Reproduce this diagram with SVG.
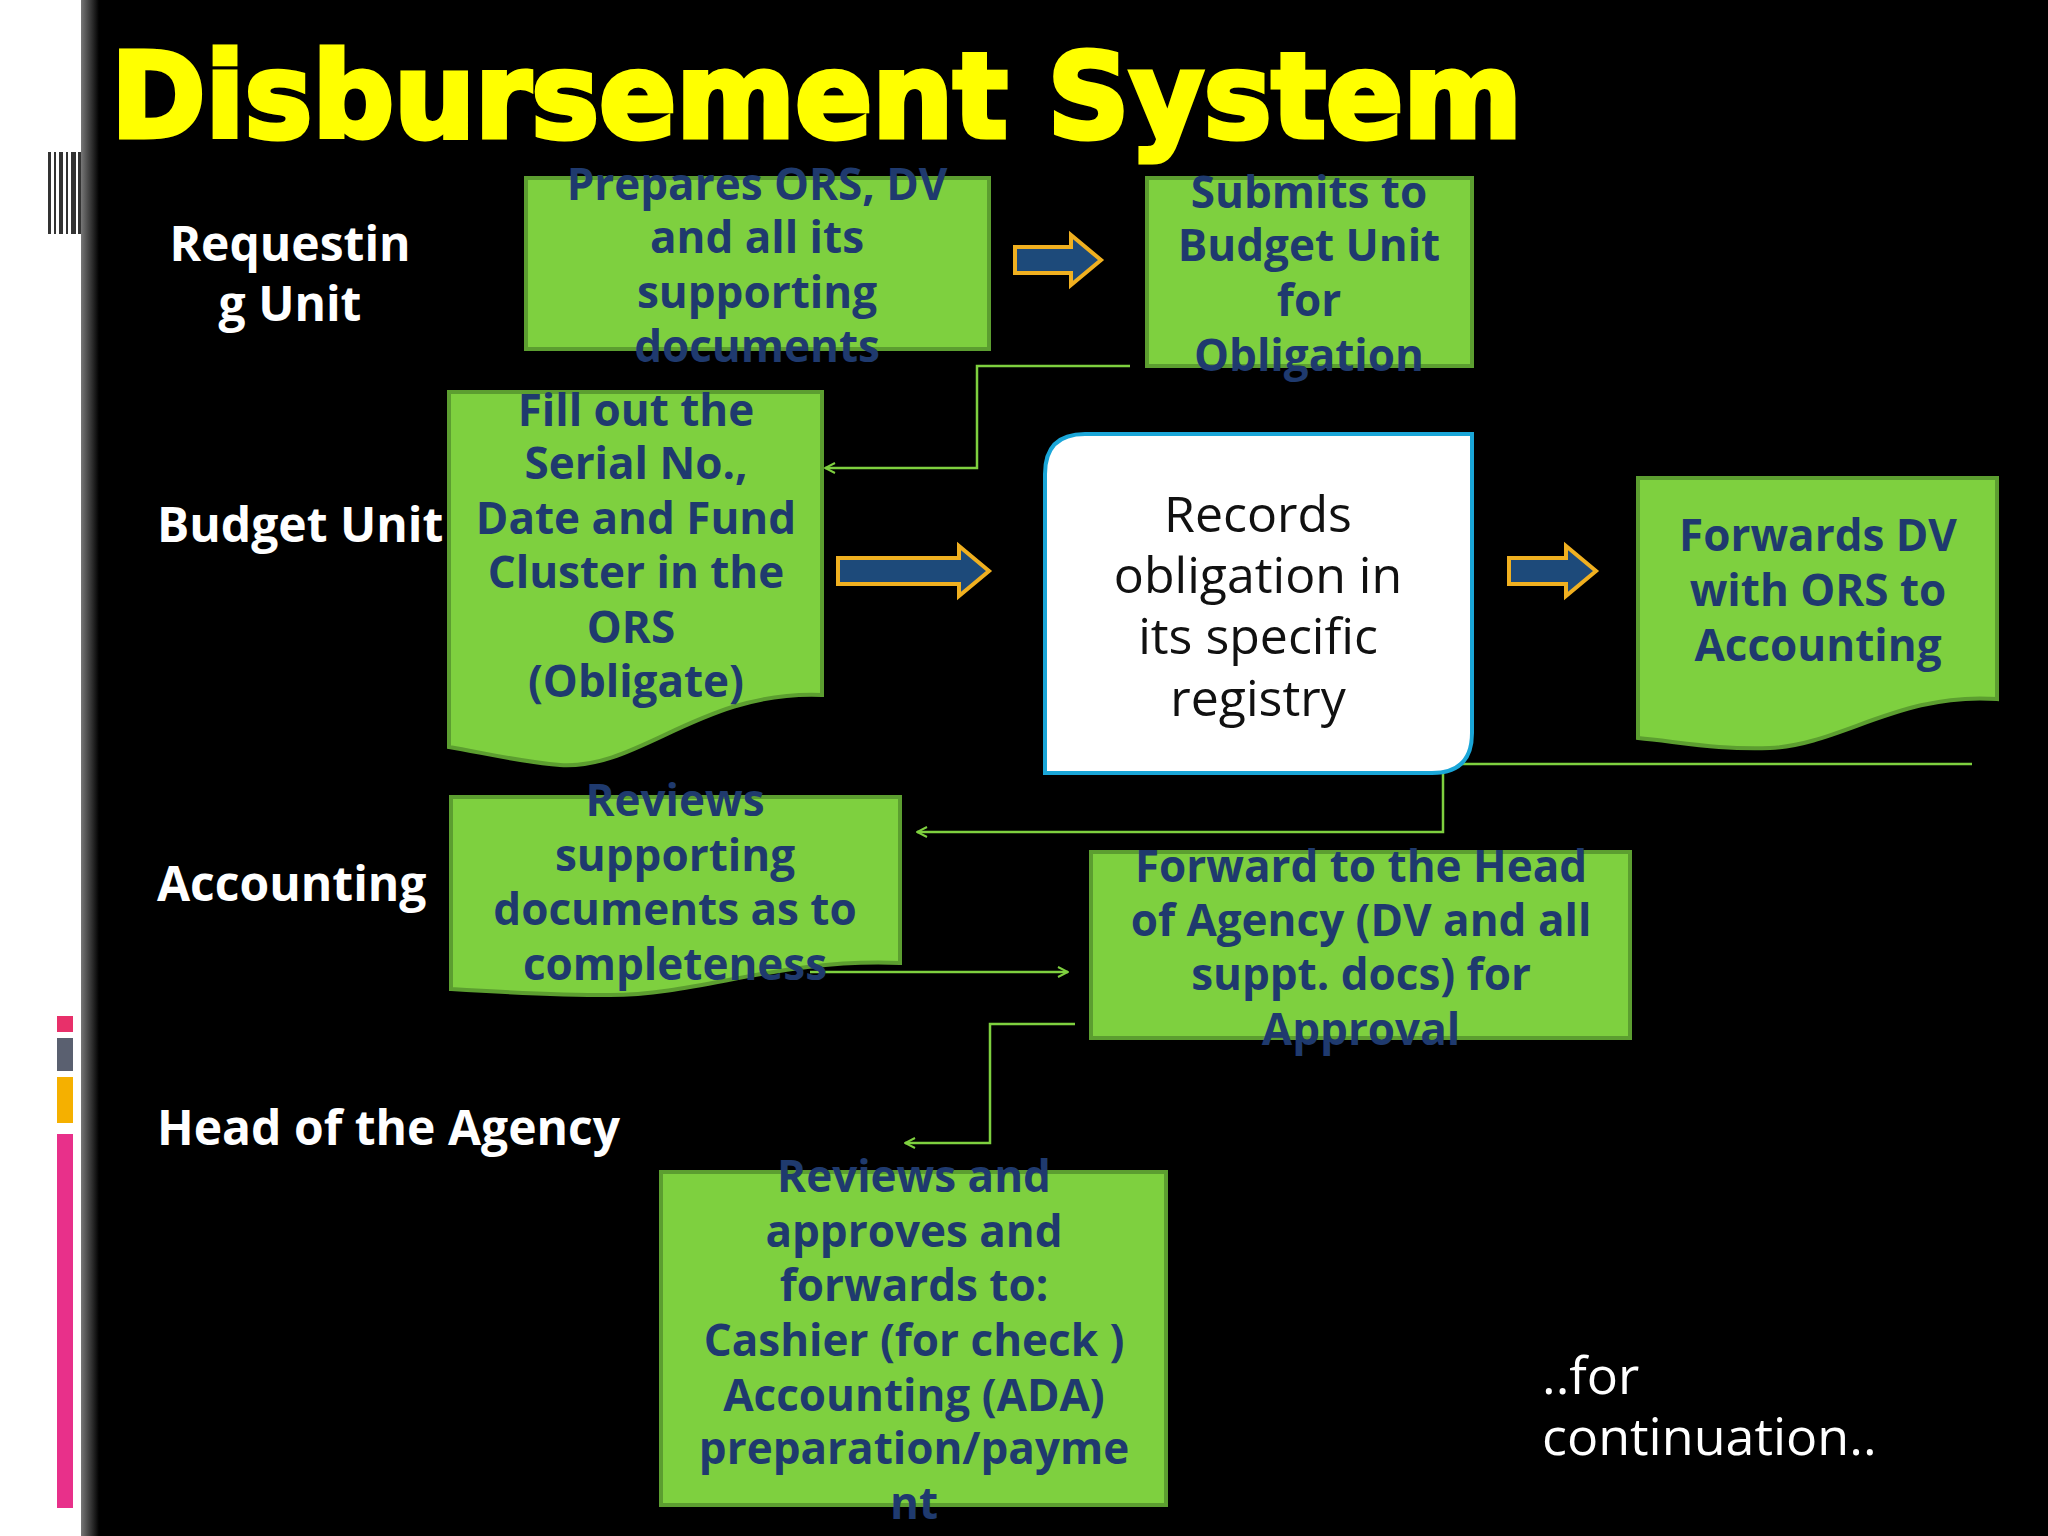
<svg xmlns="http://www.w3.org/2000/svg" width="2048" height="1536" viewBox="0 0 2048 1536">
<defs>
<style>
.box{fill:#7ed03f;stroke:#5c9e30;stroke-width:4}
.bt{font-family:"Open Sans","Noto Sans",sans-serif;font-weight:bold;font-size:44px;fill:#1f3a6e;text-anchor:middle}
.lane{font-family:"Open Sans","Noto Sans",sans-serif;font-weight:bold;font-size:48px;fill:#fff}
.conn{fill:none;stroke:#7ed03f;stroke-width:2.5}
.blk{fill:#1d4a7a;stroke:#f0b020;stroke-width:4;stroke-linejoin:miter}
</style>
<marker id="ah" viewBox="0 0 12 12" refX="11" refY="6" markerWidth="12" markerHeight="12" markerUnits="userSpaceOnUse" orient="auto">
<path d="M1,1 L11,6 L1,11" fill="none" stroke="#7ed03f" stroke-width="2"/>
</marker>
<linearGradient id="edge" x1="0" x2="1"><stop offset="0" stop-color="#777"/><stop offset="1" stop-color="#000"/></linearGradient>
</defs>
<rect width="2048" height="1536" fill="#000"/>
<rect x="0" y="0" width="81" height="1536" fill="#fff"/>
<rect x="81" y="0" width="18" height="1536" fill="url(#edge)"/>
<g fill="#333">
<rect x="48" y="152" width="3" height="82"/><rect x="54" y="152" width="2" height="82"/><rect x="59" y="152" width="4" height="82"/><rect x="66" y="152" width="2" height="82"/><rect x="71" y="152" width="5" height="82"/><rect x="78" y="152" width="3" height="82"/>
</g>
<rect x="57" y="1016" width="16" height="16" fill="#e8306a"/>
<rect x="57" y="1038" width="16" height="33" fill="#5a6070"/>
<rect x="57" y="1077" width="16" height="46" fill="#f5b000"/>
<rect x="57" y="1134" width="16" height="374" fill="#e8308a"/>
<text x="111" y="137" font-family="DejaVu Sans" font-weight="bold" font-size="118" fill="#ffff00" stroke="#ffff00" stroke-width="5" textLength="1411" lengthAdjust="spacingAndGlyphs">Disbursement System</text>
<g id="lanes">
<text class="lane" x="290" y="261" text-anchor="middle">Requestin</text>
<text class="lane" x="290" y="321" text-anchor="middle">g Unit</text>
<text class="lane" x="157" y="542">Budget Unit</text>
<text class="lane" x="157" y="901">Accounting</text>
<text class="lane" x="157" y="1145">Head of the Agency</text>
</g>
<g id="connectors">
<polyline class="conn" points="1130,366 977,366 977,468 825,468" marker-end="url(#ah)"/>
<polyline class="conn" points="1972,764 1443,764 1443,832 917,832" marker-end="url(#ah)"/>
<polyline class="conn" points="810,972 1068,972" marker-end="url(#ah)"/>
<polyline class="conn" points="1075,1024 990,1024 990,1143 905,1143" marker-end="url(#ah)"/>
<path class="blk" d="M1015,247 H1071 V235 L1101,260 L1071,285 V273 H1015 Z"/>
<path class="blk" d="M838,558 H959 V546 L989,571 L959,596 V584 H838 Z"/>
<path class="blk" d="M1509,558 H1566 V546 L1596,571 L1566,596 V584 H1509 Z"/>
</g>
<g id="n1"><rect class="box" x="526" y="178" width="463" height="171"/>
<text class="bt" x="757" y="200">Prepares ORS, DV</text><text class="bt" x="757" y="253">and all its</text><text class="bt" x="757" y="308">supporting</text><text class="bt" x="757" y="362">documents</text></g>
<g id="n2"><rect class="box" x="1147" y="178" width="325" height="188"/>
<text class="bt" x="1309" y="208">Submits to</text><text class="bt" x="1309" y="261">Budget Unit</text><text class="bt" x="1309" y="316">for</text><text class="bt" x="1309" y="371">Obligation</text></g>
<g id="n3"><path class="box" d="M449,392 H822 V695 C700,690 640,770 560,765 C520,762 480,752 449,747 Z"/>
<text class="bt" x="636" y="426">Fill out the</text><text class="bt" x="636" y="479">Serial No.,</text><text class="bt" x="636" y="534">Date and Fund</text><text class="bt" x="636" y="588">Cluster in the</text><text class="bt" x="631" y="643">ORS</text><text class="bt" x="636" y="697">(Obligate)</text></g>
<g id="n4"><path d="M1085,434 H1472 V733 Q1472,773 1432,773 H1045 V474 Q1045,434 1085,434 Z" fill="#fff" stroke="#1aa6d8" stroke-width="4"/>
<g font-family="Open Sans,Noto Sans,sans-serif" font-size="50" fill="#111" text-anchor="middle"><text x="1258" y="532">Records</text><text x="1258" y="593">obligation in</text><text x="1258" y="654">its specific</text><text x="1258" y="716">registry</text></g></g>
<g id="n5"><path class="box" d="M1638,478 H1997 V699 C1900,692 1840,745 1770,748 C1720,750 1680,742 1638,738 Z"/>
<text class="bt" x="1818" y="551">Forwards DV</text><text class="bt" x="1818" y="606">with ORS to</text><text class="bt" x="1818" y="661">Accounting</text></g>
<g id="n6"><path class="box" d="M451,797 H900 V963 C780,958 700,995 610,995 C550,995 500,992 451,989 Z"/>
<text class="bt" x="675" y="816">Reviews</text><text class="bt" x="675" y="871">supporting</text><text class="bt" x="675" y="925">documents as to</text><text class="bt" x="675" y="980">completeness</text></g>
<g id="n7"><rect class="box" x="1091" y="852" width="539" height="186"/>
<text class="bt" x="1361" y="882">Forward to the Head</text><text class="bt" x="1361" y="936">of Agency (DV and all</text><text class="bt" x="1361" y="990">suppt. docs) for</text><text class="bt" x="1361" y="1045">Approval</text></g>
<g id="n8"><rect class="box" x="661" y="1172" width="505" height="333"/>
<text class="bt" x="914" y="1192">Reviews and</text><text class="bt" x="914" y="1247">approves and</text><text class="bt" x="914" y="1301">forwards to:</text><text class="bt" x="914" y="1356"> Cashier (for check )</text><text class="bt" x="914" y="1411">Accounting (ADA)</text><text class="bt" x="914" y="1464">preparation/payme</text><text class="bt" x="914" y="1519">nt</text></g>
<g font-family="Open Sans,Noto Sans,sans-serif" font-size="52" fill="#fff"><text x="1542" y="1394">..for</text><text x="1542" y="1455">continuation..</text></g>
</svg>
